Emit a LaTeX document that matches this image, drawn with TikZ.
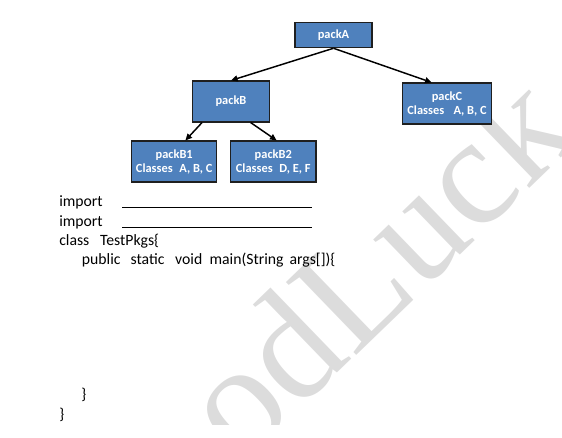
\documentclass[tikz,border=0pt]{standalone}
\usepackage{fontspec}
\setmainfont{Carlito}
\newfontfamily\markfont{Liberation Serif}
\usetikzlibrary{arrows.meta}
\definecolor{pkgBlue}{HTML}{4F81BD}
\definecolor{pkgEdge}{HTML}{1F1F1F}
\definecolor{markGray}{HTML}{DCDCDC}
\tikzset{
  pkg box/.style={draw=pkgEdge, fill=pkgBlue, line width=0.8pt, text=white, font=\fontsize{9.3}{10.5}\selectfont\bfseries, align=center, inner sep=0pt, minimum height=30.75pt},
  pkg link/.style={draw=black, line width=1.1pt, -{Triangle[length=5pt,width=4.5pt]}},
  code line/.style={anchor=base west, inner sep=0pt, font=\fontsize{11.8}{14}\selectfont},
  code blank/.style={anchor=south west, inner sep=0pt},
}

\begin{document}
\begin{tikzpicture}[x=0.75pt, y=-0.75pt]
  \useasboundingbox (0,0) rectangle (562,438);

  % Watermark behind everything
  \begin{scope}
    \clip (0,0) rectangle (562,425);
    \node[text=markGray, font=\fontsize{116}{116}\markfont, rotate=44] (mark) at (307,329) {GoodLuck};
  \end{scope}

  % Package tree
  \node[pkg box, minimum width=57.75pt, minimum height=19.1pt] (packA) at (333.5,35) {packA};
  \node[pkg box, minimum width=57.2pt] (packB) at (231,101.5) {packB};
  \node[pkg box, minimum width=67.3pt] (packC) at (447,103.5) {packC\\Classes\hspace{7pt}A, B, C};
  \node[pkg box, minimum width=63.75pt] (packB1) at (174.2,161.5) {packB1\\Classes\hspace{5pt}A, B, C};
  \node[pkg box, minimum width=64pt] (packB2) at (273.3,161.5) {packB2\\Classes\hspace{5pt}D, E, F};

  \draw[pkg link] (packA.south) -- (packB.north);
  \draw[pkg link] (packA.south) -- (packC.126);
  \draw[pkg link] (packB.216) -- (packB1.62);
  \draw[pkg link] (packB.313) -- (packB2.81);

  % Code skeleton with blanks
  \node[code line] (imp1) at (59,207) {import};
  \node[code blank] (blank1) at (122,208.3) {\rule{142.5pt}{0.7pt}};
  \node[code line] (imp2) at (59,227) {import};
  \node[code blank] (blank2) at (122,228.3) {\rule{142.5pt}{0.7pt}};
  \node[code line] (cls) at (59,245.5) {class\hspace{8pt}TestPkgs\{};
  \node[code line] (mainln) at (81.7,265) {public\hspace{7.5pt}static\hspace{8pt}void\hspace{5.5pt}main(String\hspace{4.5pt}args[])\{};
  \node[code line] (close1) at (81,400) {\}};
  \node[code line] (close2) at (59,420) {\}};
\end{tikzpicture}
\end{document}
